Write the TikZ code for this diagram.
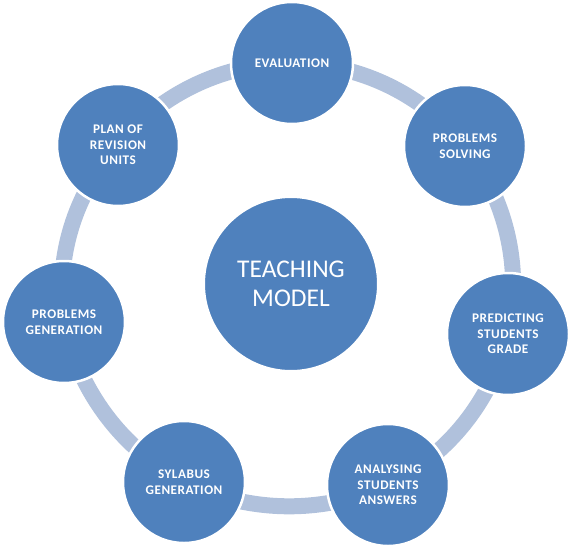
\documentclass[tikz,border=0pt]{standalone}
\usepackage{fontspec}
\setmainfont{Carlito}
\usetikzlibrary{backgrounds}
\definecolor{circblue}{RGB}{79,129,189}
\definecolor{ringblue}{RGB}{176,193,220}
\begin{document}
\begin{tikzpicture}[x=1pt,y=-1pt,
  stage/.style={circle,fill=circblue,draw=white,line width=2.5pt,minimum size=122pt,inner sep=0pt,text=white,font=\fontsize{13.2}{15.5}\selectfont\bfseries\addfontfeature{LetterSpace=4},align=center},
  hub/.style={circle,fill=circblue,draw=white,line width=2pt,minimum size=174pt,inner sep=0pt,text=white,font=\fontsize{25.5}{28.5}\selectfont,align=center},
  ring/.style={draw=ringblue,line width=16pt,line cap=butt}]
\useasboundingbox (0,0) rectangle (570,546);
\node[hub] (hub) at (291,284) {TEACHING\\MODEL};
\node[stage] (ev) at (292,63) {EVALUATION};
\node[stage] (ps) at (465,146) {PROBLEMS\\SOLVING};
\node[stage] (pr) at (508,334) {PREDICTING\\STUDENTS\\GRADE};
\node[stage] (an) at (388,485) {ANALYSING\\STUDENTS\\ANSWERS};
\node[stage] (sy) at (184,482) {SYLABUS\\GENERATION};
\node[stage] (pg) at (64,322) {PROBLEMS\\GENERATION};
\node[stage] (pl) at (118,145) {PLAN OF\\REVISION\\UNITS};
\begin{scope}[on background layer]
\draw[ring] (ev.center) to[bend left=25,looseness=0.9] (ps.center);
\draw[ring] (ps.center) to[bend left=25,looseness=0.9] (pr.center);
\draw[ring] (pr.center) to[bend left=25,looseness=0.9] (an.center);
\draw[ring] (an.center) to[bend left=25,looseness=0.9] (sy.center);
\draw[ring] (sy.center) to[bend left=25,looseness=0.9] (pg.center);
\draw[ring] (pg.center) to[bend left=25,looseness=0.9] (pl.center);
\draw[ring] (pl.center) to[bend left=25,looseness=0.9] (ev.center);
\end{scope}
\end{tikzpicture}
\end{document}
